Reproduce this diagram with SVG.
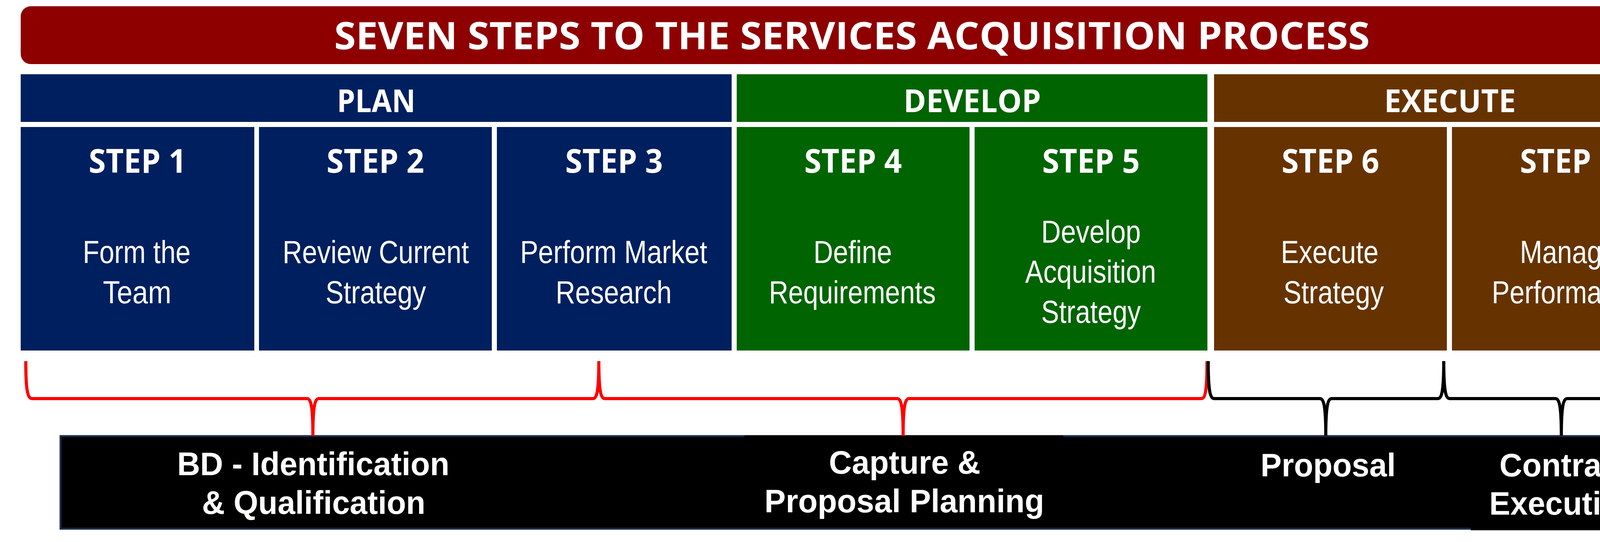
<svg xmlns="http://www.w3.org/2000/svg" width="4366" height="1387" viewBox="0 0 4366 1387">
<style>
.hd{font-family:"Open Sans","Liberation Sans",sans-serif;font-weight:700;fill:#fff;text-anchor:middle}
.st{font-family:"Open Sans","Liberation Sans",sans-serif;font-weight:700;font-size:84px;fill:#fff;text-anchor:middle}
.bd{font-family:"Liberation Sans",Arial,sans-serif;font-size:82px;fill:#fff;text-anchor:middle}
.lb{font-family:"Liberation Sans",Arial,sans-serif;font-weight:700;font-size:84px;fill:#fff;text-anchor:middle}
.plan{fill:#001F5F}
.dev{fill:#006400}
.exe{fill:#663300}
.br{fill:none;stroke-width:8;stroke-linejoin:round}
.red{stroke:#FF0000}
.blk{stroke:#000}
</style>
<rect width="4366" height="1387" fill="#fff"/>
<g id="title">
<rect x="53" y="16" width="4257" height="148" rx="26" ry="26" fill="#8E0000"/>
<text class="hd" x="2181" y="126" font-size="96" textLength="2651" lengthAdjust="spacingAndGlyphs">SEVEN STEPS TO THE SERVICES ACQUISITION PROCESS</text>
</g>
<g id="phase-plan">
<rect class="plan" x="53" y="190" width="1820" height="122"/>
<text class="hd" x="963" y="287" font-size="80" textLength="201" lengthAdjust="spacingAndGlyphs">PLAN</text>
</g>
<g id="phase-develop">
<rect class="dev" x="1886" y="190" width="1205" height="122"/>
<text class="hd" x="2489" y="287" font-size="80" textLength="352" lengthAdjust="spacingAndGlyphs">DEVELOP</text>
</g>
<g id="phase-execute">
<rect class="exe" x="3108" y="190" width="1204" height="122"/>
<text class="hd" x="3712" y="287" font-size="80" textLength="337" lengthAdjust="spacingAndGlyphs">EXECUTE</text>
</g>
<g id="step1">
<rect class="plan" x="53" y="325" width="598" height="572"/>
<text class="st" x="352" y="442" textLength="250" lengthAdjust="spacingAndGlyphs">STEP 1</text>
<text class="bd" x="350" y="673" textLength="276" lengthAdjust="spacingAndGlyphs">Form the</text>
<text class="bd" x="351" y="776" textLength="175" lengthAdjust="spacingAndGlyphs">Team</text>
</g>
<g id="step2">
<rect class="plan" x="663" y="325" width="596" height="572"/>
<text class="st" x="961" y="442" textLength="250" lengthAdjust="spacingAndGlyphs">STEP 2</text>
<text class="bd" x="962" y="673" textLength="477" lengthAdjust="spacingAndGlyphs">Review Current</text>
<text class="bd" x="962" y="776" textLength="257" lengthAdjust="spacingAndGlyphs">Strategy</text>
</g>
<g id="step3">
<rect class="plan" x="1272" y="325" width="601" height="572"/>
<text class="st" x="1572" y="442" textLength="250" lengthAdjust="spacingAndGlyphs">STEP 3</text>
<text class="bd" x="1571" y="673" textLength="479" lengthAdjust="spacingAndGlyphs">Perform Market</text>
<text class="bd" x="1571" y="776" textLength="297" lengthAdjust="spacingAndGlyphs">Research</text>
</g>
<g id="step4">
<rect class="dev" x="1886" y="325" width="596" height="572"/>
<text class="st" x="2184" y="442" textLength="250" lengthAdjust="spacingAndGlyphs">STEP 4</text>
<text class="bd" x="2183" y="673" textLength="201" lengthAdjust="spacingAndGlyphs">Define</text>
<text class="bd" x="2182" y="776" textLength="427" lengthAdjust="spacingAndGlyphs">Requirements</text>
</g>
<g id="step5">
<rect class="dev" x="2495" y="325" width="596" height="572"/>
<text class="st" x="2793" y="442" textLength="250" lengthAdjust="spacingAndGlyphs">STEP 5</text>
<text class="bd" x="2793" y="621" textLength="255" lengthAdjust="spacingAndGlyphs">Develop</text>
<text class="bd" x="2792" y="723" textLength="335" lengthAdjust="spacingAndGlyphs">Acquisition</text>
<text class="bd" x="2793" y="826" textLength="255" lengthAdjust="spacingAndGlyphs">Strategy</text>
</g>
<g id="step6">
<rect class="exe" x="3108" y="325" width="596" height="572"/>
<text class="st" x="3406" y="442" textLength="250" lengthAdjust="spacingAndGlyphs">STEP 6</text>
<text class="bd" x="3404" y="673" textLength="250" lengthAdjust="spacingAndGlyphs">Execute</text>
<text class="bd" x="3414" y="776" textLength="257" lengthAdjust="spacingAndGlyphs">Strategy</text>
</g>
<g id="step7">
<rect class="exe" x="3717" y="325" width="595" height="572"/>
<text class="st" x="4015" y="442" textLength="248" lengthAdjust="spacingAndGlyphs">STEP 7</text>
<text class="bd" x="4015" y="673" textLength="248" lengthAdjust="spacingAndGlyphs">Manage</text>
<text class="bd" x="4015" y="776" textLength="392" lengthAdjust="spacingAndGlyphs">Performance</text>
</g>
<g id="bd-band">
<rect x="155" y="1116" width="4086" height="237" fill="#000" stroke="#1B2B4B" stroke-width="5"/>
<rect x="1906" y="1114" width="816" height="8" fill="#000"/>
<rect x="3765" y="1345" width="479" height="12" fill="#000"/>
<rect x="4239" y="1116" width="4" height="240" fill="#1B2B4B"/>
</g>
<g id="connectors">
<path class="br red" d="M66,924 C66,995 70,1020 82,1020 L786,1020 C796,1020 801,1040 801,1115 M801,1115 C801,1040 806,1020 816,1020 L1518,1020 C1529,1020 1533,995 1533,924"/>
<path class="br red" d="M1533,924 C1533,995 1537,1020 1548,1020 L2297,1020 C2307,1020 2312,1040 2312,1115 M2312,1115 C2312,1040 2317,1020 2327,1020 L3076,1020 C3086,1020 3090,995 3090,924"/>
<path class="br blk" d="M3093,924 C3093,995 3097,1020 3108,1020 L3379,1020 C3389,1020 3394,1040 3394,1115 M3394,1115 C3394,1040 3399,1020 3409,1020 L3681,1020 C3692,1020 3696,995 3696,924"/>
<path class="br blk" d="M3696,924 C3696,995 3700,1020 3711,1020 L3982,1020 C3992,1020 3997,1040 3997,1115 M3997,1115 C3997,1040 4002,1020 4012,1020 L4285,1020 C4296,1020 4300,995 4300,924"/>
</g>
<g id="label-bd">
<text class="lb" x="802" y="1216" textLength="697" lengthAdjust="spacingAndGlyphs">BD - Identification</text>
<text class="lb" x="803" y="1315" textLength="572" lengthAdjust="spacingAndGlyphs">&amp; Qualification</text>
</g>
<g id="label-capture">
<text class="lb" x="2316" y="1212" textLength="388" lengthAdjust="spacingAndGlyphs">Capture &amp;</text>
<text class="lb" x="2315" y="1311" textLength="716" lengthAdjust="spacingAndGlyphs">Proposal Planning</text>
</g>
<g id="label-proposal">
<text class="lb" x="3400" y="1219" textLength="346" lengthAdjust="spacingAndGlyphs">Proposal</text>
</g>
<g id="label-contract">
<text class="lb" x="4005" y="1219" textLength="333" lengthAdjust="spacingAndGlyphs">Contract</text>
<text class="lb" x="4005" y="1317" textLength="385" lengthAdjust="spacingAndGlyphs">Execution</text>
</g>
</svg>
